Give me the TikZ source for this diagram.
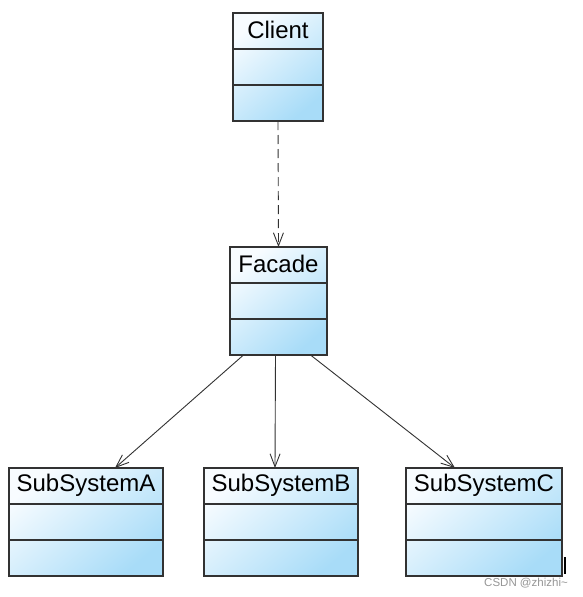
\documentclass[tikz,border=0pt]{standalone}
\usepackage{fontspec}
\setmainfont{Liberation Sans}
\usetikzlibrary{arrows.meta,calc}
\definecolor{boxblue}{RGB}{168,220,248}
\definecolor{boxlight}{RGB}{248,252,255}
\definecolor{edge}{RGB}{50,50,50}
\definecolor{wm}{RGB}{150,150,150}
\tikzset{
  classbox/.style={draw=edge, line width=1.3pt, rectangle, inner sep=0pt, outer sep=0pt,
    minimum height=108pt, top color=boxlight, bottom color=boxblue, shading angle=40},
  divider/.style={draw=edge, line width=1.2pt},
  classtitle/.style={font=\fontsize{24}{28}\selectfont, text=black, inner sep=0pt},
  assoc/.style={draw=edge, line width=0.9pt, -{Straight Barb[length=13pt,width=10pt]}},
  depend/.style={assoc, dash pattern=on 9pt off 5pt}
}
\newcommand\umlclass[5]{%
  \node[classbox, minimum width=#4pt, anchor=north west] (#1) at (#2,#3) {};
  \draw[divider] ([yshift=-36pt]#1.north west) -- ([yshift=-36pt]#1.north east);
  \draw[divider] ([yshift=-72pt]#1.north west) -- ([yshift=-72pt]#1.north east);
  \node[classtitle] (#1T) at ([yshift=-17pt]#1.north) {#5};
}
\begin{document}
\begin{tikzpicture}[x=1pt,y=-1pt]
\useasboundingbox[fill=white] (0,0) rectangle (583,597);
\umlclass{client}{233}{13}{90}{Client}
\umlclass{facade}{230}{247}{97}{Facade}
\umlclass{subA}{9}{468}{154}{SubSystemA}
\umlclass{subB}{204}{468}{154}{SubSystemB}
\umlclass{subC}{406}{468}{156}{SubSystemC}
\draw[depend] (client.south) -- (facade.north);
\draw[assoc] ([xshift=-35pt]facade.south) -- ([xshift=29pt]subA.north);
\draw[assoc] ([xshift=-3pt]facade.south) -- ([xshift=-6pt]subB.north);
\draw[assoc] ([xshift=32pt]facade.south) -- ([xshift=-29pt]subC.north);
\coordinate (markTop) at (565,557);
\coordinate (markBot) at (565,574);
\draw[line width=1.6pt, black] (markTop) -- (markBot);
\node[anchor=east, text=wm, font=\fontsize{11.5}{13}\selectfont, inner sep=0pt] (wmark) at (568,583) {CSDN @zhizhi\textasciitilde};
\end{tikzpicture}
\end{document}
